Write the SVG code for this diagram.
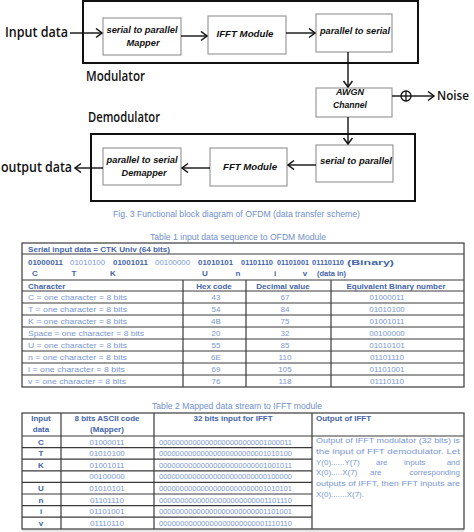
<svg xmlns="http://www.w3.org/2000/svg" width="474" height="532" viewBox="0 0 474 532">
<style>
.big{font-family:"Open Sans","Liberation Sans",sans-serif;font-weight:600;font-size:14.5px;fill:#111}
.bl{font-family:"Liberation Sans",Arial,sans-serif;font-weight:bold;font-style:italic;font-size:9.5px;fill:#111;text-anchor:middle}
.box{fill:#fff;stroke:#9a9a9a;stroke-width:1.2}
.outer{fill:none;stroke:#111;stroke-width:2}
.con{stroke:#111;stroke-width:1.4;fill:none}
.cap{font-family:"Liberation Sans",Arial,sans-serif;font-size:8.5px;fill:#6f90cc}
.th{font-family:"Liberation Sans",Arial,sans-serif;font-size:8px;font-weight:bold;fill:#4565a8}
.td{font-family:"Liberation Sans",Arial,sans-serif;font-size:8px;fill:#7a98d4}
.tds{font-family:"Liberation Sans",Arial,sans-serif;font-size:7.5px;fill:#7a98d4}
.m{text-anchor:middle}
.grid{stroke:#3a3a3a;stroke-width:1.2;fill:none}
</style>
<defs>
<marker id="ah" markerUnits="userSpaceOnUse" markerWidth="10" markerHeight="12" refX="7" refY="5" orient="auto">
<path d="M1,0.5 L7,5 L1,9.5" fill="none" stroke="#111" stroke-width="1.5"/>
</marker>
</defs>

<rect width="474" height="532" fill="#fff"/>

<g id="modulator">
<rect class="outer" x="83" y="1" width="335" height="62"/>
<text class="big" x="86" y="81" textLength="59" lengthAdjust="spacingAndGlyphs">Modulator</text>
</g>
<g id="demodulator">
<rect class="outer" x="91" y="134" width="324" height="67"/>
<text class="big" x="88" y="122" textLength="72" lengthAdjust="spacingAndGlyphs">Demodulator</text>
</g>

<g id="input">
<text class="big" x="5" y="37" textLength="63" lengthAdjust="spacingAndGlyphs">Input data</text>
</g>
<g id="output">
<text class="big" x="1" y="172" textLength="71" lengthAdjust="spacingAndGlyphs">output data</text>
</g>
<g id="noise">
<text class="big" x="437" y="100" style="font-size:13px" textLength="32" lengthAdjust="spacingAndGlyphs">Noise</text>
</g>

<g id="sp-mapper">
<rect class="box" x="103" y="18" width="78" height="37"/>
<text class="bl" x="142" y="33" textLength="71" lengthAdjust="spacingAndGlyphs">serial to parallel</text>
<text class="bl" x="143" y="46" textLength="33" lengthAdjust="spacingAndGlyphs">Mapper</text>
</g>
<g id="ifft">
<rect class="box" x="208" y="16" width="78" height="38"/>
<text class="bl" x="245" y="37" textLength="57" lengthAdjust="spacingAndGlyphs">IFFT Module</text>
</g>
<g id="ps-mod">
<rect class="box" x="316" y="14" width="76" height="38"/>
<text class="bl" x="355" y="34" textLength="70" lengthAdjust="spacingAndGlyphs">parallel to serial</text>
</g>
<g id="awgn">
<rect class="box" x="316" y="88" width="76" height="29"/>
<text class="bl" x="350" y="95" textLength="28" lengthAdjust="spacingAndGlyphs">AWGN</text>
<text class="bl" x="350" y="108" textLength="34" lengthAdjust="spacingAndGlyphs">Channel</text>
</g>
<g id="sp-demod">
<rect class="box" x="316" y="145" width="77" height="37"/>
<text class="bl" x="356" y="164" textLength="72" lengthAdjust="spacingAndGlyphs">serial to parallel</text>
</g>
<g id="fft">
<rect class="box" x="210" y="148" width="77" height="38"/>
<text class="bl" x="250" y="170" textLength="54" lengthAdjust="spacingAndGlyphs">FFT Module</text>
</g>
<g id="ps-demapper">
<rect class="box" x="103" y="148" width="78" height="37"/>
<text class="bl" x="142" y="163" textLength="71" lengthAdjust="spacingAndGlyphs">parallel to serial</text>
<text class="bl" x="144" y="176" textLength="45" lengthAdjust="spacingAndGlyphs">Demapper</text>
</g>
<g id="adder">
<circle cx="406" cy="96" r="5" fill="#fff" stroke="#111" stroke-width="1.3"/>
<line x1="406" y1="91" x2="406" y2="101" stroke="#111" stroke-width="1.3"/>
</g>

<g id="connectors">
<line class="con" x1="70" y1="33" x2="102" y2="33" marker-end="url(#ah)"/>
<line class="con" x1="181" y1="36" x2="207" y2="36" marker-end="url(#ah)"/>
<line class="con" x1="286" y1="33" x2="315" y2="33" marker-end="url(#ah)"/>
<line class="con" x1="348" y1="52" x2="348" y2="87" marker-end="url(#ah)"/>
<line class="con" x1="392" y1="96" x2="411" y2="96"/>
<line class="con" x1="411" y1="96" x2="434" y2="96" marker-end="url(#ah)"/>
<line class="con" x1="348" y1="117" x2="348" y2="144" marker-end="url(#ah)"/>
<line class="con" x1="316" y1="165" x2="288" y2="165" marker-end="url(#ah)"/>
<line class="con" x1="210" y1="168" x2="182" y2="168" marker-end="url(#ah)"/>
<line class="con" x1="103" y1="168" x2="75" y2="168" marker-end="url(#ah)"/>
</g>

<text class="cap" x="113" y="217" textLength="247" lengthAdjust="spacingAndGlyphs">Fig. 3 Functional block diagram of OFDM (data transfer scheme)</text>
<text class="cap" x="150" y="240" textLength="176" lengthAdjust="spacingAndGlyphs">Table 1 input data sequence to OFDM Module</text>

<g id="table1">
<rect class="grid" x="22" y="243" width="442" height="144"/>
<line class="grid" x1="22" y1="254" x2="464" y2="254"/>
<line class="grid" x1="22" y1="280" x2="464" y2="280"/>
<line class="grid" x1="22" y1="291" x2="464" y2="291"/>
<line class="grid" x1="22" y1="303" x2="464" y2="303"/>
<line class="grid" x1="22" y1="315" x2="464" y2="315"/>
<line class="grid" x1="22" y1="327" x2="464" y2="327"/>
<line class="grid" x1="22" y1="339" x2="464" y2="339"/>
<line class="grid" x1="22" y1="351" x2="464" y2="351"/>
<line class="grid" x1="22" y1="363" x2="464" y2="363"/>
<line class="grid" x1="22" y1="375" x2="464" y2="375"/>
<line class="grid" x1="183" y1="280" x2="183" y2="387"/>
<line class="grid" x1="246" y1="280" x2="246" y2="387"/>
<line class="grid" x1="331" y1="280" x2="331" y2="387"/>

<text class="th" x="28" y="252" textLength="142" lengthAdjust="spacingAndGlyphs">Serial input data = CTK Univ (64 bits)</text>
<text class="th" x="28" y="265" textLength="35" lengthAdjust="spacingAndGlyphs">01000011</text>
<text class="td" x="70" y="265" textLength="35" lengthAdjust="spacingAndGlyphs">01010100</text>
<text class="th" x="113" y="265" textLength="35" lengthAdjust="spacingAndGlyphs">01001011</text>
<text class="td" x="155" y="265" textLength="35" lengthAdjust="spacingAndGlyphs">00100000</text>
<text class="th" x="198" y="265" textLength="35" lengthAdjust="spacingAndGlyphs">01010101</text>
<text class="th" x="241" y="265" textLength="32" lengthAdjust="spacingAndGlyphs">01101110</text>
<text class="th" x="277" y="265" textLength="32" lengthAdjust="spacingAndGlyphs">01101001</text>
<text class="th" x="312" y="265" textLength="32" lengthAdjust="spacingAndGlyphs">01110110</text>
<text class="th" x="347" y="265" textLength="47" lengthAdjust="spacingAndGlyphs">(Binary)</text>
<text class="th m" x="35" y="276">C</text>
<text class="th m" x="74" y="276">T</text>
<text class="th m" x="113" y="276">K</text>
<text class="th m" x="205" y="276">U</text>
<text class="th m" x="238" y="276">n</text>
<text class="th m" x="275" y="276">i</text>
<text class="th m" x="305" y="276">v</text>
<text class="th" x="317" y="276" textLength="29" lengthAdjust="spacingAndGlyphs">(data in)</text>

<text class="th" x="28" y="289">Character</text>
<text class="th m" x="214" y="289">Hex code</text>
<text class="th m" x="283" y="289">Decimal value</text>
<text class="th m" x="396" y="289">Equivalent Binary number</text>

<g class="td">
<text x="28" y="300" textLength="99" lengthAdjust="spacingAndGlyphs">C = one character =  8 bits</text>
<text x="28" y="312" textLength="99" lengthAdjust="spacingAndGlyphs">T = one character =  8 bits</text>
<text x="28" y="324" textLength="99" lengthAdjust="spacingAndGlyphs">K = one character =  8 bits</text>
<text x="28" y="336" textLength="116" lengthAdjust="spacingAndGlyphs">Space = one character =  8 bits</text>
<text x="28" y="348" textLength="99" lengthAdjust="spacingAndGlyphs">U = one character =  8 bits</text>
<text x="28" y="360" textLength="99" lengthAdjust="spacingAndGlyphs">n = one character =  8 bits</text>
<text x="28" y="372" textLength="97" lengthAdjust="spacingAndGlyphs">i = one character =  8 bits</text>
<text x="28" y="384" textLength="98" lengthAdjust="spacingAndGlyphs">v = one character =  8 bits</text>
</g>
<g class="td m">
<text x="216" y="300">43</text><text x="285" y="300">67</text><text x="387" y="300">01000011</text>
<text x="216" y="312">54</text><text x="285" y="312">84</text><text x="387" y="312">01010100</text>
<text x="216" y="324">4B</text><text x="285" y="324">75</text><text x="387" y="324">01001011</text>
<text x="216" y="336">20</text><text x="285" y="336">32</text><text x="387" y="336">00100000</text>
<text x="216" y="348">55</text><text x="285" y="348">85</text><text x="387" y="348">01010101</text>
<text x="216" y="360">6E</text><text x="285" y="360">110</text><text x="387" y="360">01101110</text>
<text x="216" y="372">69</text><text x="285" y="372">105</text><text x="387" y="372">01101001</text>
<text x="216" y="384">76</text><text x="285" y="384">118</text><text x="387" y="384">01110110</text>
</g>
</g>

<text class="cap" x="152" y="409" textLength="170" lengthAdjust="spacingAndGlyphs">Table 2 Mapped data stream to IFFT module</text>

<g id="table2">
<rect x="22" y="529" width="442" height="3" fill="#e6e6e6"/>
<rect class="grid" x="22" y="413" width="442" height="116"/>
<line class="grid" x1="61" y1="413" x2="61" y2="529"/>
<line class="grid" x1="154" y1="413" x2="154" y2="529"/>
<line class="grid" x1="312" y1="413" x2="312" y2="529"/>
<line class="grid" x1="22" y1="436" x2="464" y2="436"/>
<line class="grid" x1="22" y1="447.6" x2="312" y2="447.6"/>
<line class="grid" x1="22" y1="459.2" x2="312" y2="459.2"/>
<line class="grid" x1="22" y1="470.8" x2="312" y2="470.8"/>
<line class="grid" x1="22" y1="482.4" x2="312" y2="482.4"/>
<line class="grid" x1="22" y1="494" x2="312" y2="494"/>
<line class="grid" x1="22" y1="505.6" x2="312" y2="505.6"/>
<line class="grid" x1="22" y1="517.2" x2="312" y2="517.2"/>

<text class="th m" x="41" y="421">Input</text>
<text class="th m" x="41" y="432">data</text>
<text class="th m" x="107" y="421">8 bits ASCII code</text>
<text class="th m" x="107" y="432">(Mapper)</text>
<text class="th m" x="233" y="421">32 bits input for IFFT</text>
<text class="th" x="316" y="421">Output of IFFT</text>

<g class="th m">
<text x="41" y="444.6">C</text>
<text x="41" y="456.2">T</text>
<text x="41" y="467.8">K</text>
<text x="41" y="491">U</text>
<text x="41" y="502.6">n</text>
<text x="41" y="514.2">i</text>
<text x="41" y="525.8">v</text>
</g>
<g class="td m">
<text x="107" y="444.6">01000011</text>
<text x="107" y="456.2">01010100</text>
<text x="107" y="467.8">01001011</text>
<text x="107" y="479.4">00100000</text>
<text x="107" y="491">01010101</text>
<text x="107" y="502.6">01101110</text>
<text x="107" y="514.2">01101001</text>
<text x="107" y="525.8">01110110</text>
</g>
<g class="tds">
<text x="159" y="444.6" textLength="133" lengthAdjust="spacingAndGlyphs">00000000000000000000000001000011</text>
<text x="159" y="456.2" textLength="133" lengthAdjust="spacingAndGlyphs">00000000000000000000000001010100</text>
<text x="159" y="467.8" textLength="133" lengthAdjust="spacingAndGlyphs">00000000000000000000000001001011</text>
<text x="159" y="479.4" textLength="133" lengthAdjust="spacingAndGlyphs">00000000000000000000000000100000</text>
<text x="159" y="491" textLength="133" lengthAdjust="spacingAndGlyphs">00000000000000000000000001010101</text>
<text x="159" y="502.6" textLength="133" lengthAdjust="spacingAndGlyphs">00000000000000000000000001101110</text>
<text x="159" y="514.2" textLength="133" lengthAdjust="spacingAndGlyphs">00000000000000000000000001101001</text>
<text x="159" y="525.8" textLength="133" lengthAdjust="spacingAndGlyphs">00000000000000000000000001110110</text>
</g>
<g class="td">
<text x="316" y="443" textLength="144" lengthAdjust="spacingAndGlyphs">Output of IFFT modulator (32 bits) is</text>
<text x="316" y="454" textLength="144" lengthAdjust="spacingAndGlyphs">the input of FFT demodulator. Let</text>
<text x="316" y="464.5">Y(0)......Y(7)</text>
<text x="376" y="464.5">are</text>
<text x="404" y="464.5">inputs</text>
<text x="460" y="464.5" text-anchor="end">and</text>
<text x="316" y="475">X(0).....X(7)</text>
<text x="370" y="475">are</text>
<text x="460" y="475" text-anchor="end">corresponding</text>
<text x="316" y="486" textLength="144" lengthAdjust="spacingAndGlyphs">outputs of IFFT, then FFT inputs are</text>
<text x="316" y="497">X(0).......X(7).</text>
</g>
</g>
</svg>
